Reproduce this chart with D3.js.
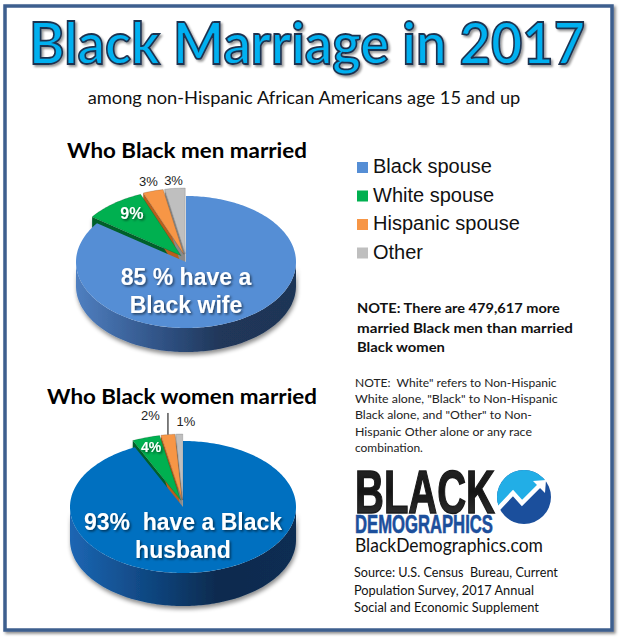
<!DOCTYPE html>
<html>
<head>
<meta charset="utf-8">
<script src="https://cdnjs.cloudflare.com/ajax/libs/d3/7.8.5/d3.min.js"></script>
<style>body{margin:0;background:#fff} text{white-space:pre}</style>
</head>
<body>
<script>
// data
var categories = ["Black spouse", "White spouse", "Hispanic spouse", "Other"];
var menValues = [85, 9, 3, 3];
var womenValues = [93, 4, 2, 1];
var menCenter = ["85 % have a", "Black wife"];
var womenCenter = ["93%  have a Black", "husband"];
var titleText = "Black Marriage in 2017";
var subtitleText = "among non-Hispanic African Americans age 15 and up";
var noteBold = ["NOTE: There are 479,617 more", "married Black men than married", "Black women"];
var noteSmall = ["NOTE:  White\" refers to Non-Hispanic", "White alone, \"Black\" to Non-Hispanic",
    "Black alone, and \"Other\" to Non-", "Hispanic Other alone or any race", "combination."];
var sourceLines = ["Source: U.S. Census  Bureau, Current", "Population Survey, 2017 Annual",
    "Social and Economic Supplement"];

var W = 619, H = 637;
var svg = d3.select("body").append("svg").attr("width", W).attr("height", H);
var defs = svg.append("defs");

function shadow(id, dx, dy, sd, op) {
    defs.append("filter").attr("id", id)
        .attr("x", "-20%").attr("y", "-20%").attr("width", "140%").attr("height", "140%")
        .append("feDropShadow").attr("dx", dx).attr("dy", dy).attr("stdDeviation", sd)
        .attr("flood-color", "#000").attr("flood-opacity", op);
}
shadow("frameShadow", 2, 2, 1.5, 0.45);
shadow("pieShadow", 1, 3, 2, 0.45);
shadow("txtShadow", 1.5, 1.5, 1, 0.55);
shadow("titleShadow", 2, 2, 1.2, 0.4);

// squeeze / stretch a text to a width, by scaling it about its anchor
function fit(sel, w) {
    var x = +sel.attr("x"), y = +sel.attr("y");
    var len = sel.node().getComputedTextLength();
    var s = w / len;
    sel.attr("x", 0).attr("y", 0).attr("transform", "translate(" + x + "," + y + ") scale(" + s + ",1)");
    return sel;
}

var color = d3.scaleOrdinal().domain(categories).range(["#558ed5", "#00b050", "#f79646", "#bfbfbf"]);
var wallColor = d3.scaleOrdinal().domain(categories).range(["#2b4a78", "#00602a", "#b85f1c", "#8a8a8a"]);

// frame
svg.append("rect").attr("x", 5).attr("y", 6).attr("width", 607).attr("height", 624)
    .attr("fill", "#fff").attr("stroke", "#3e5e8e").attr("stroke-width", 3.5)
    .attr("filter", "url(#frameShadow)");

// title
fit(svg.append("text").attr("x", 307).attr("y", 64).attr("text-anchor", "middle")
    .style("font-family", "Lato").style("font-weight", 700).style("font-size", "58px")
    .attr("fill", "#00b0f0").attr("stroke", "#1f3350").attr("stroke-width", 1.8)
    .attr("filter", "url(#titleShadow)")
    .text(titleText), 556);

fit(svg.append("text").attr("x", 304).attr("y", 104).attr("text-anchor", "middle")
    .style("font-family", "Lato").style("font-size", "16.5px").attr("fill", "#111")
    .text(subtitleText), 433);

// 3D pie
function drawPie(values, o) {
    var arcs = d3.pie().sort(null).value(function (d) { return d; })(values);
    var g = svg.append("g");
    var line = d3.line();

    var grad = defs.append("linearGradient").attr("id", o.id + "wall")
        .attr("gradientUnits", "userSpaceOnUse")
        .attr("x1", o.cx - o.rx).attr("x2", o.cx + o.rx).attr("y1", 0).attr("y2", 0);
    o.wallStops.forEach(function (s) {
        grad.append("stop").attr("offset", s[0]).attr("stop-color", s[1]);
    });

    function off(d, i) {
        if (i === 0) return [0, 0];
        var m = (d.startAngle + d.endAngle) / 2;
        return [o.explode * Math.sin(m), -o.explode * Math.cos(m)];
    }
    function pt(a, k, of, dz) {
        return [o.cx + of[0] + o.rx * k * Math.sin(a), o.cy + of[1] - o.ry * k * Math.cos(a) + (dz || 0)];
    }
    function arcPts(a0, a1, of, dz) {
        var n = Math.max(2, Math.ceil((a1 - a0) / 0.02)), pts = [];
        for (var j = 0; j <= n; j++) pts.push(pt(a0 + (a1 - a0) * j / n, 1, of, dz));
        return pts;
    }

    var walls = g.append("g").attr("filter", "url(#pieShadow)");
    arcs.forEach(function (d, i) {
        var of = off(d, i);
        var c = [o.cx + of[0], o.cy + of[1]];
        var cz = [c[0], c[1] + o.depth];
        var fill = i === 0 ? "url(#" + o.id + "wall)" : wallColor(categories[i]);
        // outer curved wall, front half only
        var b0 = Math.max(d.startAngle, Math.PI / 2), b1 = Math.min(d.endAngle, Math.PI * 1.5);
        if (b0 < b1) {
            var pts = arcPts(b0, b1, of, 0).concat(arcPts(b0, b1, of, o.depth).reverse());
            walls.append("path").attr("d", line(pts) + "Z").attr("fill", fill);
        }
        // radial cut faces
        if (i > 0 && -Math.sin(d.startAngle) > 0) {
            var p = pt(d.startAngle, 1, of, 0), pz = pt(d.startAngle, 1, of, o.depth);
            walls.append("path").attr("d", line([c, p, pz, cz]) + "Z").attr("fill", wallColor(categories[i]));
        }
        if (i > 0 && Math.sin(d.endAngle) > 0) {
            var q = pt(d.endAngle, 1, of, 0), qz = pt(d.endAngle, 1, of, o.depth);
            walls.append("path").attr("d", line([c, q, qz, cz]) + "Z").attr("fill", wallColor(categories[i]));
        }
    });

    arcs.forEach(function (d, i) {
        var of = off(d, i);
        var c = [o.cx + of[0], o.cy + of[1]];
        var pts = [c].concat(arcPts(d.startAngle, d.endAngle, of, 0));
        g.append("path").attr("d", line(pts) + "Z")
            .attr("fill", i === 0 ? o.mainColor : color(categories[i]))
            .attr("stroke", i === 0 ? "none" : "rgba(0,0,0,0.25)").attr("stroke-width", 0.6);
    });

    // slice labels
    arcs.forEach(function (d, i) {
        if (i === 0) return;
        var lc = o.labels[i];
        var m = (d.startAngle + d.endAngle) / 2, of = off(d, i);
        var p = pt(m, lc.k, of, 0);
        var t = g.append("text").attr("x", p[0] + lc.dx).attr("y", p[1] + lc.dy)
            .attr("text-anchor", lc.anchor)
            .style("font-family", "Liberation Sans, Arial, sans-serif").style("font-size", lc.size + "px")
            .text(d.data + "%");
        if (lc.inside) {
            t.style("font-weight", 700).attr("fill", "#fff").attr("filter", "url(#txtShadow)");
        } else {
            t.attr("fill", "#222");
        }
        if (lc.leader) {
            var a = pt(m, 1, of, 0), b = pt(m, lc.leader, of, 0);
            g.append("line").attr("x1", a[0]).attr("y1", a[1]).attr("x2", a[0]).attr("y2", b[1])
                .attr("stroke", "#000").attr("stroke-width", 1);
        }
    });

    // big label in the main slice
    o.center.forEach(function (s, j) {
        g.append("text").attr("x", o.cx).attr("y", o.cy + 23 + j * 28)
            .attr("text-anchor", "middle")
            .style("font-family", "Liberation Sans, Arial, sans-serif").style("font-weight", 700)
            .style("font-size", "23px").attr("fill", "#fff").attr("filter", "url(#txtShadow)")
            .text(s);
    });
}

// pie titles
fit(svg.append("text").attr("x", 187).attr("y", 158).attr("text-anchor", "middle")
    .style("font-family", "Lato").style("font-weight", 700).style("font-size", "20px").attr("fill", "#000")
    .text("Who Black men married"), 240);
fit(svg.append("text").attr("x", 182).attr("y", 404).attr("text-anchor", "middle")
    .style("font-family", "Lato").style("font-weight", 700).style("font-size", "20px").attr("fill", "#000")
    .text("Who Black women married"), 270);

drawPie(menValues, {
    id: "men", cx: 186, cy: 262, rx: 110, ry: 66, depth: 24, explode: 8,
    mainColor: "#558ed5",
    wallStops: [[0, "#4f7fc0"], [0.4, "#2f5183"], [0.65, "#20375a"], [1, "#1f3556"]],
    center: menCenter,
    labels: [null,
        { k: 0.73, dx: 0, dy: 1, anchor: "middle", size: 16, inside: true },
        { k: 1.15, dx: 0, dy: 5, anchor: "middle", size: 13 },
        { k: 1.13, dx: 0, dy: 5, anchor: "middle", size: 13 }]
});

drawPie(womenValues, {
    id: "women", cx: 183, cy: 507, rx: 113, ry: 66, depth: 33, explode: 7,
    mainColor: "#0070c0",
    wallStops: [[0, "#1c66b3"], [0.4, "#0e4279"], [0.65, "#0a2b4f"], [1, "#0c2d52"]],
    center: womenCenter,
    labels: [null,
        { k: 0.85, dx: 0, dy: 5, anchor: "middle", size: 14, inside: true },
        { k: 1.3, dx: -4, dy: 5, anchor: "end", size: 13, leader: 1.33 },
        { k: 1.2, dx: -2, dy: 5, anchor: "start", size: 13 }]
});

// legend
var lg = svg.append("g").attr("transform", "translate(357,162)");
categories.forEach(function (c, i) {
    lg.append("rect").attr("x", 0).attr("y", i * 28.5).attr("width", 11).attr("height", 11).attr("fill", color(c));
    lg.append("text").attr("x", 16).attr("y", i * 28.5 + 11)
        .style("font-family", "Liberation Sans, Arial, sans-serif").style("font-size", "20px")
        .attr("fill", "#111").text(c);
});

// notes
var boldW = [203, 216, 88];
noteBold.forEach(function (s, i) {
    fit(svg.append("text").attr("x", 357).attr("y", 313 + i * 19.5)
        .style("font-family", "Lato").style("font-weight", 700).style("font-size", "13.5px")
        .attr("fill", "#111").text(s), boldW[i]);
});
var smallW = [202, 203, 177, 177, 68];
noteSmall.forEach(function (s, i) {
    fit(svg.append("text").attr("x", 355).attr("y", 387 + i * 16.2)
        .style("font-family", "Lato").style("font-size", "11.5px")
        .attr("fill", "#222").text(s), smallW[i]);
});

// logo
var lgGrad = defs.append("linearGradient").attr("id", "blackGrad").attr("x1", 0).attr("x2", 0).attr("y1", 0).attr("y2", 1);
lgGrad.append("stop").attr("offset", 0).attr("stop-color", "#2a2a2a");
lgGrad.append("stop").attr("offset", 0.5).attr("stop-color", "#151515");
lgGrad.append("stop").attr("offset", 1).attr("stop-color", "#3a3a3a");
fit(svg.append("text").attr("x", 355).attr("y", 513)
    .style("font-family", "Liberation Sans, Arial, sans-serif").style("font-weight", 700).style("font-size", "62px")
    .attr("fill", "url(#blackGrad)").attr("stroke", "#1a1a1a").attr("stroke-width", 1.5)
    .text("BLACK"), 140);
fit(svg.append("text").attr("x", 355).attr("y", 533)
    .style("font-family", "Liberation Sans, Arial, sans-serif").style("font-weight", 700).style("font-size", "25px")
    .attr("fill", "#1c4f9c").attr("stroke", "#1c4f9c").attr("stroke-width", 0.6)
    .text("DEMOGRAPHICS"), 138);

var lc = { x: 524, y: 497, r: 27 };
defs.append("clipPath").attr("id", "logoClip").append("circle")
    .attr("cx", lc.x).attr("cy", lc.y).attr("r", lc.r);
var logo = svg.append("g");
logo.append("circle").attr("cx", lc.x).attr("cy", lc.y).attr("r", lc.r).attr("fill", "#1b4f9c");
var zig = [[lc.x - 27, lc.y + 13], [lc.x - 11, lc.y - 4], [lc.x - 2, lc.y + 6], [lc.x + 15, lc.y - 11]];
logo.append("path").attr("clip-path", "url(#logoClip)")
    .attr("d", d3.line()(zig.concat([[lc.x + 40, lc.y - 30], [lc.x - 40, lc.y - 40], [lc.x - 40, lc.y + 20]])) + "Z")
    .attr("fill", "#22aee6");
logo.append("path").attr("d", d3.line()(zig)).attr("fill", "none")
    .attr("stroke", "#fff").attr("stroke-width", 4.5).attr("stroke-linejoin", "miter");
logo.append("path").attr("d", d3.line()([[lc.x + 22, lc.y - 17], [lc.x + 9, lc.y - 16], [lc.x + 21, lc.y - 4]]) + "Z")
    .attr("fill", "#fff");

fit(svg.append("text").attr("x", 355).attr("y", 552)
    .style("font-family", "Lato").style("font-size", "18.5px").attr("fill", "#111")
    .text("BlackDemographics.com"), 188);

var srcW = [204, 180, 185];
sourceLines.forEach(function (s, i) {
    fit(svg.append("text").attr("x", 354).attr("y", 577 + i * 17.5)
        .style("font-family", "Lato").style("font-size", "13px")
        .attr("fill", "#111").text(s), srcW[i]);
});
</script>
</body>
</html>
